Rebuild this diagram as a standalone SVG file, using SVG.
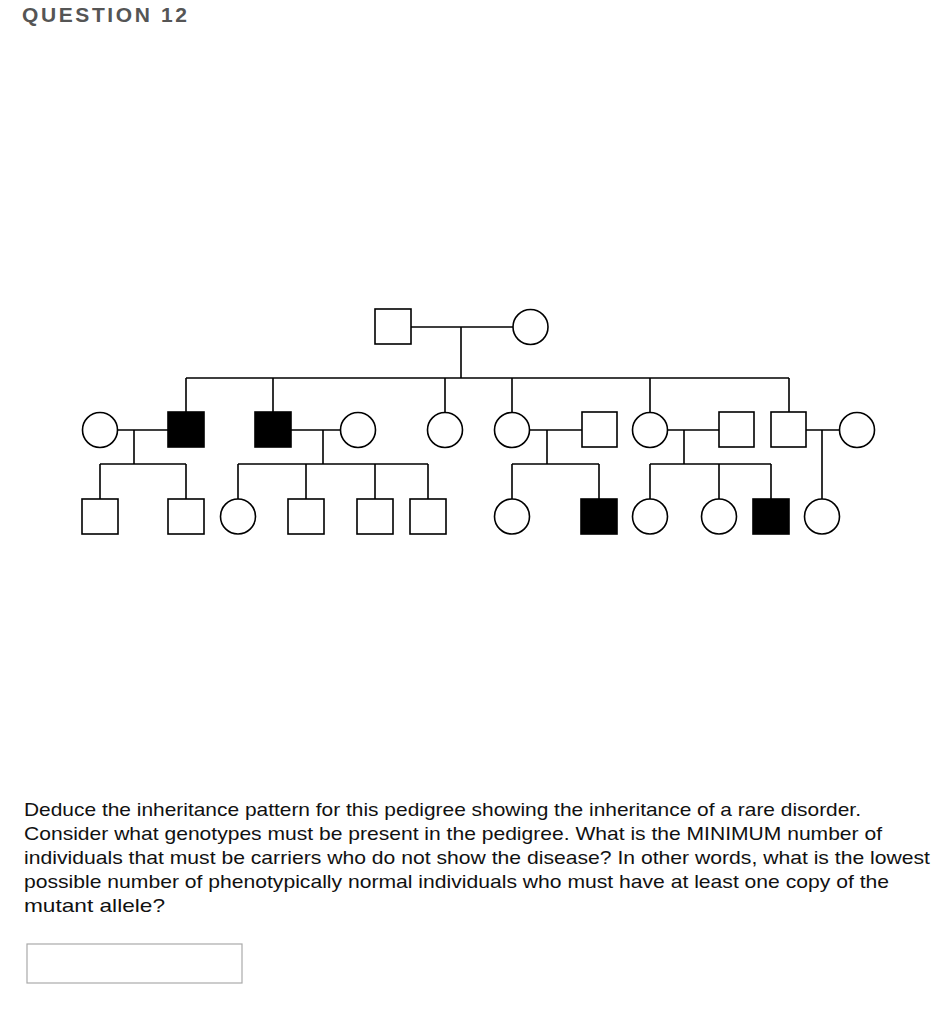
<svg xmlns="http://www.w3.org/2000/svg" width="944" height="1024" viewBox="0 0 944 1024">
<style>
.l{stroke:#000;stroke-width:1.6;fill:none}
.o{fill:#fff;stroke:#000;stroke-width:1.6}
.f{fill:#000;stroke:#000;stroke-width:1.6}
.t{font-family:"Liberation Sans",Arial,sans-serif;font-size:19px;fill:#111}
</style>
<rect width="944" height="1024" fill="#fff"/>
<text x="22" y="22" font-family="Liberation Sans,Arial,sans-serif" font-size="21" font-weight="bold" letter-spacing="2.6" fill="#555">QUESTION 12</text>
<g id="connectors">
<path class="l" d="M411 327H513M461 327V378M186 378H789M186 378V412M273 378V412M445 378V412M512 378V412M650 378V412M789 378V412"/>
<path class="l" d="M118 430H168M134 430V464M100 464H186M100 464V499M186 464V499"/>
<path class="l" d="M291 430H340M323 430V464M238 464H428M238 464V499M306 464V499M375 464V499M428 464V499"/>
<path class="l" d="M530 430H582M547 430V464M512 464H599M512 464V499M599 464V499"/>
<path class="l" d="M668 430H719M684 430V464M650 464H771M650 464V499M719 464V499M771 464V499"/>
<path class="l" d="M806 430H840M822 430V499"/>
</g>
<g id="gen1">
<rect id="g1m" class="o" x="375" y="309" width="36" height="35"/>
<circle id="g1f" class="o" cx="530.5" cy="327" r="17.5"/>
</g>
<g id="gen2">
<circle id="g2a" class="o" cx="100" cy="430" r="17.5"/>
<rect id="g2b" class="f" x="168" y="412" width="36" height="35"/>
<rect id="g2c" class="f" x="255" y="412" width="36" height="35"/>
<circle id="g2d" class="o" cx="358" cy="430" r="17.5"/>
<circle id="g2e" class="o" cx="445" cy="430" r="17.5"/>
<circle id="g2f" class="o" cx="512" cy="430" r="17.5"/>
<rect id="g2g" class="o" x="582" y="412" width="35" height="35"/>
<circle id="g2h" class="o" cx="650" cy="430" r="17.5"/>
<rect id="g2i" class="o" x="719" y="412" width="35" height="35"/>
<rect id="g2j" class="o" x="771" y="412" width="35" height="35"/>
<circle id="g2k" class="o" cx="857" cy="430" r="17.5"/>
</g>
<g id="gen3">
<rect id="g3a" class="o" x="82" y="499" width="36" height="35"/>
<rect id="g3b" class="o" x="168" y="499" width="36" height="35"/>
<circle id="g3c" class="o" cx="238" cy="516.5" r="17.5"/>
<rect id="g3d" class="o" x="288" y="499" width="36" height="35"/>
<rect id="g3e" class="o" x="357" y="499" width="36" height="35"/>
<rect id="g3f" class="o" x="410" y="499" width="36" height="35"/>
<circle id="g3g" class="o" cx="512" cy="516.5" r="17.5"/>
<rect id="g3h" class="f" x="581" y="499" width="36" height="35"/>
<circle id="g3i" class="o" cx="650" cy="516.5" r="17.5"/>
<circle id="g3j" class="o" cx="719" cy="516.5" r="17.5"/>
<rect id="g3k" class="f" x="753" y="499" width="36" height="35"/>
<circle id="g3l" class="o" cx="822" cy="516.5" r="17.5"/>
</g>
<text class="t" x="24" y="816" textLength="837" lengthAdjust="spacingAndGlyphs">Deduce the inheritance pattern for this pedigree showing the inheritance of a rare disorder.</text>
<text class="t" x="24" y="840" textLength="858" lengthAdjust="spacingAndGlyphs">Consider what genotypes must be present in the pedigree. What is the MINIMUM number of</text>
<text class="t" x="24" y="864" textLength="906" lengthAdjust="spacingAndGlyphs">individuals that must be carriers who do not show the disease? In other words, what is the lowest</text>
<text class="t" x="24" y="888" textLength="865" lengthAdjust="spacingAndGlyphs">possible number of phenotypically normal individuals who must have at least one copy of the</text>
<text class="t" x="24" y="912" textLength="141" lengthAdjust="spacingAndGlyphs">mutant allele?</text>
<rect x="27" y="944" width="215" height="39" fill="#fff" stroke="#aaa" stroke-width="1.2"/>
</svg>
